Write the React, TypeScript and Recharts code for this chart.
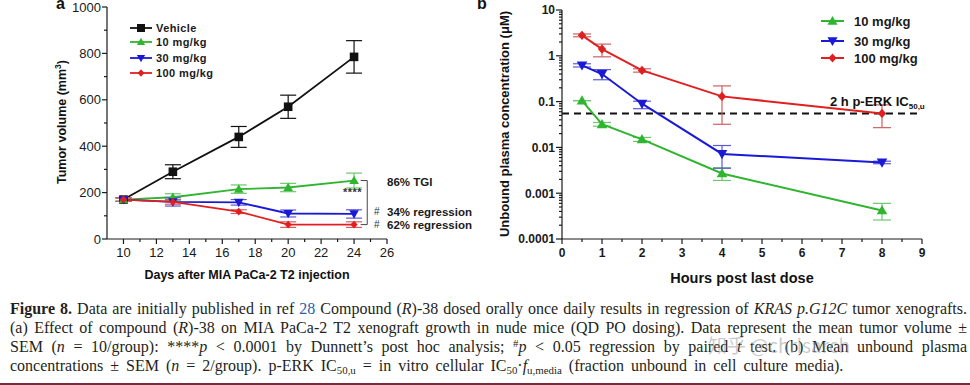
import React from 'react';
import { LineChart, Line, XAxis, YAxis, ErrorBar, ReferenceLine } from 'recharts';

// ---------- Panel a: tumor volume ----------
const days = [10, 13, 17, 20, 24];
const vehicle = [170, 290, 440, 570, 785];
const vehicleSem = [8, 30, 45, 50, 70];
const dose10 = [170, 180, 215, 222, 252];
const dose10Sem = [8, 15, 18, 18, 32];
const dose30 = [170, 160, 158, 110, 108];
const dose30Sem = [8, 18, 12, 15, 18];
const dose100 = [170, 160, 118, 62, 62];
const dose100Sem = [8, 10, 8, 12, 12];
const dayTicks = [10, 11, 12, 13, 14, 15, 16, 17, 18, 19, 20, 21, 22, 23, 24, 25, 26];
const volumeTicks = [0, 100, 200, 300, 400, 500, 600, 700, 800, 900, 1000];

// ---------- Panel b: unbound plasma concentration ----------
const hours = [0.5, 1, 2, 4, 8];
const conc10 = [0.105, 0.032, 0.015, 0.0027, 0.00042];
const conc10Err = [[0, 0], [0.003, 0.003], [0.0015, 0.0015], [0.0008, 0.0009], [0.00016, 0.00018]];
const conc30 = [0.62, 0.4, 0.09, 0.0072, 0.0047];
const conc30Err = [[0.05, 0.05], [0.1, 0.1], [0.02, 0.012], [0.0037, 0.0038], [0.0003, 0.0003]];
const conc100 = [2.8, 1.4, 0.48, 0.13, 0.055];
const conc100Err = [[0.2, 0.2], [0.45, 0.4], [0.04, 0.04], [0.098, 0.09], [0.028, 0.03]];
const ic50u = 0.055;
const hourTicks = [0, 0.5, 1, 1.5, 2, 2.5, 3, 3.5, 4, 4.5, 5, 5.5, 6, 6.5, 7, 7.5, 8, 8.5, 9];
const decadeLabels = ['0.0001', '0.001', '0.01', '0.1', '1', '10'];
const concTicks: number[] = [];
[0.0001, 0.001, 0.01, 0.1, 1].forEach((d) => {
  [1, 2, 3, 4, 5, 6, 7, 8, 9].forEach((k) => concTicks.push(k * d));
});
concTicks.push(10);

const tumorData = days.map((d, i) => ({
  day: d,
  vehicle: vehicle[i], vehicleSem: vehicleSem[i],
  dose10: dose10[i], dose10Sem: dose10Sem[i],
  dose30: dose30[i], dose30Sem: dose30Sem[i],
  dose100: dose100[i], dose100Sem: dose100Sem[i],
}));

const pkData = hours.map((h, i) => ({
  hour: h,
  conc10: conc10[i], conc10Err: conc10Err[i],
  conc30: conc30[i], conc30Err: conc30Err[i],
  conc100: conc100[i], conc100Err: conc100Err[i],
}));

const SANS = '"Liberation Sans", Arial, Helvetica, sans-serif';
const AXIS = '#1a1a1a';
const BLACK = '#111111';
const GREEN = '#2fb52f';
const BLUE = '#1a1ad6';
const RED = '#e02020';
const GREEN_ERR = '#6cc86c';
const BLUE_ERR = '#5a5ad8';
const RED_ERR = '#d06060';

type Shape = 'square' | 'up' | 'down' | 'diamond';

function Marker({ cx, cy, shape, color, s }: { cx: number; cy: number; shape: Shape; color: string; s: number }) {
  if (shape === 'square') {
    return <rect x={cx - s} y={cy - s} width={2 * s} height={2 * s} fill={color} />;
  }
  if (shape === 'up') {
    return <polygon points={`${cx},${cy - s * 1.15} ${cx - s * 1.15},${cy + s * 0.85} ${cx + s * 1.15},${cy + s * 0.85}`} fill={color} />;
  }
  if (shape === 'down') {
    return <polygon points={`${cx},${cy + s * 1.15} ${cx - s * 1.15},${cy - s * 0.85} ${cx + s * 1.15},${cy - s * 0.85}`} fill={color} />;
  }
  return <polygon points={`${cx},${cy - s * 1.1} ${cx + s},${cy} ${cx},${cy + s * 1.1} ${cx - s},${cy}`} fill={color} />;
}

const makeDot = (shape: Shape, color: string, s: number) => (props: any) => {
  const { cx, cy, index } = props;
  if (cx == null || cy == null) return <g key={`e-${shape}-${index}`} />;
  return (
    <g key={`d-${shape}-${index}`}>
      <Marker cx={cx} cy={cy} shape={shape} color={color} s={s} />
    </g>
  );
};

function XTickA(props: any) {
  const { x, y, payload } = props;
  const v = payload.value;
  const major = v % 2 === 0;
  return (
    <g>
      <line x1={x} x2={x} y1={y} y2={y + (major ? 5 : 3)} stroke={AXIS} strokeWidth={1.2} />
      {major && (
        <text x={x} y={y + 18} textAnchor="middle" fontSize={13} fontFamily={SANS} fill="#1a1a1a">{v}</text>
      )}
    </g>
  );
}

function YTickA(props: any) {
  const { x, y, payload } = props;
  const v = payload.value;
  const major = v % 200 === 0;
  return (
    <g>
      <line x1={x} x2={x - (major ? 5 : 3)} y1={y} y2={y} stroke={AXIS} strokeWidth={1.2} />
      {major && (
        <text x={x - 6} y={y + 4.6} textAnchor="end" fontSize={13} fontFamily={SANS} fill="#1a1a1a">{v}</text>
      )}
    </g>
  );
}

function XTickB(props: any) {
  const { x, y, payload } = props;
  const v = payload.value;
  const major = Math.abs(v - Math.round(v)) < 1e-6;
  return (
    <g>
      <line x1={x} x2={x} y1={y} y2={y + (major ? 5 : 3)} stroke={AXIS} strokeWidth={1.2} />
      {major && (
        <text x={x} y={y + 18} textAnchor="middle" fontSize={12} fontWeight="bold" fontFamily={SANS} fill="#1a1a1a">{v}</text>
      )}
    </g>
  );
}

function YTickB(props: any) {
  const { x, y, payload } = props;
  const v = payload.value;
  const l = Math.log10(v);
  const major = Math.abs(l - Math.round(l)) < 1e-6;
  const label = major ? decadeLabels[Math.round(l) + 4] : '';
  return (
    <g>
      <line x1={x} x2={x - (major ? 6 : 3)} y1={y} y2={y} stroke={AXIS} strokeWidth={1.2} />
      {major && (
        <text x={x - 7} y={y + 4.3} textAnchor="end" fontSize={12} fontWeight="bold" fontFamily={SANS} fill="#1a1a1a">{label}</text>
      )}
    </g>
  );
}

const sub: React.CSSProperties = { fontSize: '0.68em', position: 'relative', top: '0.3em', verticalAlign: 'baseline' };
const sup: React.CSSProperties = { fontSize: '0.68em', position: 'relative', top: '-0.45em', verticalAlign: 'baseline' };
const lineStyle: React.CSSProperties = { textAlign: 'justify', textAlignLast: 'justify', height: 19, whiteSpace: 'normal' };

export default function App() {
  return (
    <div style={{ position: 'absolute', left: 0, top: 0, width: 970, height: 385, background: '#fff', overflow: 'hidden', fontFamily: SANS }}>
      {/* Panel a */}
      <div style={{ position: 'absolute', left: 0, top: 0 }}>
        <LineChart width={480} height={290} data={tumorData} margin={{ top: 7, right: 93, left: 0, bottom: 0 }}>
          <XAxis dataKey="day" type="number" domain={[9, 26]} ticks={dayTicks} interval={0} height={51}
            tick={<XTickA />} tickLine={false} tickSize={0} tickMargin={0} stroke={AXIS} strokeWidth={1.2} allowDataOverflow />
          <YAxis type="number" domain={[0, 1000]} ticks={volumeTicks} interval={0} width={107}
            tick={<YTickA />} tickLine={false} tickSize={0} tickMargin={0} stroke={AXIS} strokeWidth={1.2} allowDataOverflow />
          <ReferenceLine segment={[{ x: 24.4, y: 252 }, { x: 24.8, y: 252 }]} stroke="#444" strokeWidth={1} ifOverflow="visible" />
          <ReferenceLine segment={[{ x: 24.8, y: 252 }, { x: 24.8, y: 62 }]} stroke="#444" strokeWidth={1} ifOverflow="visible" />
          <ReferenceLine segment={[{ x: 24.4, y: 62 }, { x: 24.8, y: 62 }]} stroke="#444" strokeWidth={1} ifOverflow="visible" />
          <Line dataKey="vehicle" stroke={BLACK} strokeWidth={1.8} dot={makeDot('square', BLACK, 4.3)} activeDot={false} isAnimationActive={false}>
            <ErrorBar dataKey="vehicleSem" direction="y" width={8} stroke={BLACK} strokeWidth={1.2} />
          </Line>
          <Line dataKey="dose10" stroke={GREEN} strokeWidth={1.8} dot={makeDot('up', GREEN, 4.2)} activeDot={false} isAnimationActive={false}>
            <ErrorBar dataKey="dose10Sem" direction="y" width={8} stroke={GREEN_ERR} strokeWidth={1.2} />
          </Line>
          <Line dataKey="dose30" stroke={BLUE} strokeWidth={1.8} dot={makeDot('down', BLUE, 4.2)} activeDot={false} isAnimationActive={false}>
            <ErrorBar dataKey="dose30Sem" direction="y" width={8} stroke={BLUE_ERR} strokeWidth={1.2} />
          </Line>
          <Line dataKey="dose100" stroke={RED} strokeWidth={1.8} dot={makeDot('diamond', RED, 3.6)} activeDot={false} isAnimationActive={false}>
            <ErrorBar dataKey="dose100Sem" direction="y" width={8} stroke={RED_ERR} strokeWidth={1.2} />
          </Line>
        </LineChart>
      </div>

      {/* Panel b */}
      <div style={{ position: 'absolute', left: 480, top: 0 }}>
        <LineChart width={490} height={290} data={pkData} margin={{ top: 10, right: 48, left: 0, bottom: 0 }}>
          <XAxis dataKey="hour" type="number" domain={[0, 9]} ticks={hourTicks} interval={0} height={51}
            tick={<XTickB />} tickLine={false} tickSize={0} tickMargin={0} stroke={AXIS} strokeWidth={1.2} allowDataOverflow />
          <YAxis type="number" scale="log" domain={[0.0001, 10]} ticks={concTicks} interval={0} width={82}
            tick={<YTickB />} tickLine={false} tickSize={0} tickMargin={0} stroke={AXIS} strokeWidth={1.2} allowDataOverflow />
          <ReferenceLine y={ic50u} stroke="#111" strokeWidth={2} strokeDasharray="7 5" />
          <Line dataKey="conc10" stroke={GREEN} strokeWidth={2} dot={makeDot('up', GREEN, 4.6)} activeDot={false} isAnimationActive={false}>
            <ErrorBar dataKey="conc10Err" direction="y" width={9} stroke={GREEN_ERR} strokeWidth={1.2} />
          </Line>
          <Line dataKey="conc30" stroke={BLUE} strokeWidth={2} dot={makeDot('down', BLUE, 4.6)} activeDot={false} isAnimationActive={false}>
            <ErrorBar dataKey="conc30Err" direction="y" width={9} stroke={BLUE_ERR} strokeWidth={1.2} />
          </Line>
          <Line dataKey="conc100" stroke={RED} strokeWidth={2} dot={makeDot('diamond', RED, 4.2)} activeDot={false} isAnimationActive={false}>
            <ErrorBar dataKey="conc100Err" direction="y" width={9} stroke={RED_ERR} strokeWidth={1.2} />
          </Line>
        </LineChart>
      </div>

      {/* Overlay text and legends */}
      <svg width={970} height={290} style={{ position: 'absolute', left: 0, top: 0, pointerEvents: 'none' }} fontFamily={SANS}>
        <text x={56} y={9} fontSize={16} fontWeight="bold" fill="#111">a</text>
        <text x={477} y={9} fontSize={16} fontWeight="bold" fill="#111">b</text>

        {/* panel a legend */}
        {[
          { label: 'Vehicle', color: BLACK, shape: 'square' as Shape, y: 28, s: 4 },
          { label: '10 mg/kg', color: GREEN, shape: 'up' as Shape, y: 42, s: 3.6 },
          { label: '30 mg/kg', color: BLUE, shape: 'down' as Shape, y: 58, s: 3.6 },
          { label: '100 mg/kg', color: RED, shape: 'diamond' as Shape, y: 73, s: 3.4 },
        ].map((it) => (
          <g key={it.label}>
            <line x1={130} x2={152} y1={it.y} y2={it.y} stroke={it.color} strokeWidth={1.8} />
            <Marker cx={141} cy={it.y} shape={it.shape} color={it.color} s={it.s} />
            <text x={156} y={it.y + 4} fontSize={11} fontWeight="bold" fill="#1a1a1a" letterSpacing={0.4}>{it.label}</text>
          </g>
        ))}

        {/* panel a annotations */}
        <text x={387} y={186} fontSize={11.5} fontWeight="bold" fill="#1a1a1a">86% TGI</text>
        <text x={343} y={196} fontSize={11} fontWeight="bold" fill="#333" letterSpacing={0.5}>****</text>
        <text x={374} y={215} fontSize={10} fill="#333">#</text>
        <text x={387} y={216} fontSize={11.5} fontWeight="bold" fill="#1a1a1a">34% regression</text>
        <text x={374} y={228} fontSize={10} fill="#333">#</text>
        <text x={387} y={229} fontSize={11.5} fontWeight="bold" fill="#1a1a1a">62% regression</text>

        {/* panel a axis titles */}
        <text x={247} y={279} fontSize={12.5} fontWeight="bold" textAnchor="middle" fill="#111">Days after MIA PaCa-2 T2 injection</text>
        <text transform="translate(66,122) rotate(-90)" fontSize={12.5} fontWeight="bold" textAnchor="middle" fill="#111">
          Tumor volume (mm<tspan dy={-5} fontSize={8.5}>3</tspan><tspan dy={5}>)</tspan>
        </text>

        {/* panel b legend */}
        {[
          { label: '10 mg/kg', color: GREEN, shape: 'up' as Shape, y: 21, s: 4.4 },
          { label: '30 mg/kg', color: BLUE, shape: 'down' as Shape, y: 41, s: 4.4 },
          { label: '100 mg/kg', color: RED, shape: 'diamond' as Shape, y: 58, s: 4 },
        ].map((it) => (
          <g key={'b' + it.label}>
            <line x1={821} x2={844} y1={it.y} y2={it.y} stroke={it.color} strokeWidth={2} />
            <Marker cx={832.5} cy={it.y} shape={it.shape} color={it.color} s={it.s} />
            <text x={854} y={it.y + 4.6} fontSize={13} fontWeight="bold" fill="#1a1a1a">{it.label}</text>
          </g>
        ))}

        <text x={830} y={106} fontSize={13} fontWeight="bold" fill="#111">
          2 h p-ERK IC<tspan fontSize={8} dy={3}>50,u</tspan>
        </text>

        {/* panel b axis titles */}
        <text x={742} y={283} fontSize={14.5} fontWeight="bold" textAnchor="middle" fill="#111">Hours post last dose</text>
        <text transform="translate(508.5,124) rotate(-90)" fontSize={13} fontWeight="bold" textAnchor="middle" fill="#111">
          Unbound plasma concentration (μM)
        </text>
      </svg>

      {/* Caption */}
      <div style={{ position: 'absolute', left: 10, top: 299, width: 957, fontFamily: '"Liberation Serif", "Times New Roman", serif', fontSize: 16, wordSpacing: -1, lineHeight: '19px', color: '#231f20' }}>
        <div style={lineStyle}>
          <b>Figure 8.</b> Data are initially published in ref <span style={{ color: '#2a5fa8' }}>28</span> Compound (<i>R</i>)-38 dosed orally once daily results in regression of <i>KRAS p.G12C</i> tumor xenografts.
        </div>
        <div style={lineStyle}>
          (a) Effect of compound (<i>R</i>)-38 on MIA PaCa-2 T2 xenograft growth in nude mice (QD PO dosing). Data represent the mean tumor volume ±
        </div>
        <div style={lineStyle}>
          SEM (<i>n</i> = 10/group): ****<i>p</i> &lt; 0.0001 by Dunnett’s post hoc analysis; <span style={sup}>#</span><i>p</i> &lt; 0.05 regression by paired <i>t</i> test. (b) Mean unbound plasma
        </div>
        <div style={{ height: 19, whiteSpace: 'nowrap', wordSpacing: 3 }}>
          concentrations ± SEM (<i>n</i> = 2/group). p-ERK IC<span style={sub}>50,u</span> = in vitro cellular IC<span style={sub}>50</span>·<i>f</i><span style={sub}>u,media</span> (fraction unbound in cell culture media).
        </div>
      </div>

      {/* watermark */}
      <div style={{ position: 'absolute', left: 708, top: 331, fontFamily: '"Noto Sans CJK SC", "Noto Sans", sans-serif', fontSize: 19, color: 'rgba(150,150,150,0.5)', whiteSpace: 'nowrap', pointerEvents: 'none' }}>
        知乎 @chrisarch
      </div>

      {/* bottom rule */}
      <div style={{ position: 'absolute', left: 0, top: 383, width: 970, height: 2, background: '#7d2a3c' }} />
    </div>
  );
}
